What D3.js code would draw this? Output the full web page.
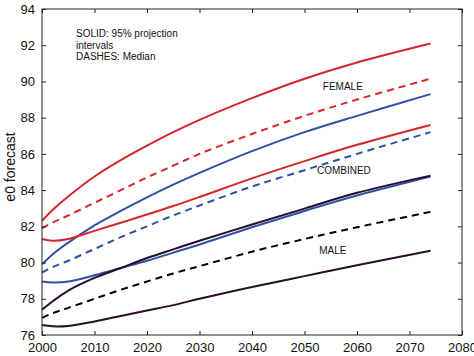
<!DOCTYPE html>
<html><head><meta charset="utf-8">
<script src="https://cdn.jsdelivr.net/npm/d3@7"></script>
<style>
html,body{margin:0;padding:0;background:#fff;}
svg{display:block;font-family:"Liberation Sans",Arial,Helvetica,sans-serif;}
</style></head>
<body>
<script>
const years = [2000, 2002, 2005, 2010, 2015, 2020, 2025, 2030, 2040, 2050, 2060, 2074];
const femaleUpper    = [82.3, 82.9, 83.65, 84.75, 85.65, 86.45, 87.2, 87.88, 89.08, 90.15, 91.05, 92.1];
const femaleMedian   = [81.9, 82.2, 82.6, 83.3, 84.0, 84.7, 85.35, 86.0, 87.1, 88.1, 89.0, 90.15];
const femaleLower    = [81.3, 81.2, 81.3, 81.75, 82.2, 82.65, 83.12, 83.62, 84.65, 85.6, 86.5, 87.6];
const combinedUpper  = [79.9, 80.45, 81.1, 82.05, 82.85, 83.6, 84.3, 84.95, 86.15, 87.2, 88.1, 89.3];
const combinedMedian = [79.45, 79.75, 80.1, 80.75, 81.4, 82.0, 82.6, 83.15, 84.2, 85.1, 86.0, 87.2];
const combinedLower  = [78.95, 78.9, 78.95, 79.3, 79.7, 80.1, 80.55, 81.0, 81.95, 82.85, 83.7, 84.75];
const maleUpper      = [77.4, 77.85, 78.45, 79.15, 79.7, 80.25, 80.73, 81.2, 82.1, 82.98, 83.85, 84.8];
const maleMedian     = [76.95, 77.2, 77.5, 78.0, 78.5, 78.95, 79.4, 79.8, 80.6, 81.3, 81.95, 82.8];
const maleLower      = [76.55, 76.48, 76.5, 76.75, 77.05, 77.35, 77.65, 78.0, 78.65, 79.25, 79.85, 80.65];
const xTicks = [2000, 2010, 2020, 2030, 2040, 2050, 2060, 2070, 2080];
const yTicks = [76, 78, 80, 82, 84, 86, 88, 90, 92, 94];
const groupLabels = ["FEMALE", "COMBINED", "MALE"];
const noteLines = ["SOLID: 95% projection", "intervals", "DASHES: Median"];

const W = 474, H = 356;
const m = {l: 42, r: 12, t: 9, b: 21};
const svg = d3.select("body").append("svg").attr("width", W).attr("height", H);
const x = d3.scaleLinear().domain([2000, 2080]).range([m.l, W - m.r]);
const y = d3.scaleLinear().domain([76, 94]).range([H - m.b, m.t]);

const RED = "#d4262c", BLUE = "#2f50a6", DARK = "#2a0c2c", BLACK = "#000";
const series = [
  {v: combinedLower, c: BLUE, d: null},
  {v: combinedUpper, c: BLUE, d: null},
  {v: combinedMedian, c: BLUE, d: "7,5"},
  {v: femaleLower, c: RED, d: null},
  {v: femaleUpper, c: RED, d: null},
  {v: femaleMedian, c: RED, d: "7,5"},
  {v: maleUpper, c: DARK, d: null},
  {v: maleLower, c: DARK, d: null},
  {v: maleMedian, c: BLACK, d: "7,5"}
];
const line = d3.line().x((d, i) => x(years[i])).y(d => y(d)).curve(d3.curveCatmullRom.alpha(0.5));
series.forEach(s => {
  svg.append("path").attr("d", line(s.v)).attr("fill", "none")
    .attr("stroke", s.c).attr("stroke-width", 2)
    .attr("stroke-dasharray", s.d);
});

// axes (ticks inward on all four sides)
const tk = 4;
const fmt = d3.format("d");
const axB = svg.append("g").attr("transform", `translate(0,${H - m.b})`)
  .call(d3.axisBottom(x).tickValues(xTicks).tickFormat(fmt).tickSizeInner(-tk).tickSizeOuter(0).tickPadding(8));
const axT = svg.append("g").attr("transform", `translate(0,${m.t})`)
  .call(d3.axisTop(x).tickValues(xTicks).tickFormat("").tickSizeInner(-tk).tickSizeOuter(0));
const axL = svg.append("g").attr("transform", `translate(${m.l},0)`)
  .call(d3.axisLeft(y).tickValues(yTicks).tickFormat(fmt).tickSizeInner(-tk).tickSizeOuter(0).tickPadding(7));
const axR = svg.append("g").attr("transform", `translate(${W - m.r},0)`)
  .call(d3.axisRight(y).tickValues(yTicks).tickFormat("").tickSizeInner(-tk).tickSizeOuter(0));
[axB, axT, axL, axR].forEach(a => {
  a.select(".domain").remove();
  a.selectAll("line").attr("stroke", "#222");
  a.selectAll("text").attr("font-size", 13).attr("fill", "#111")
    .attr("font-family", "'Liberation Sans',Arial,sans-serif");
});
svg.append("rect").attr("x", m.l).attr("y", m.t)
  .attr("width", W - m.r - m.l).attr("height", H - m.b - m.t)
  .attr("fill", "none").attr("stroke", "#222").attr("stroke-width", 1);

svg.append("text").attr("transform", `translate(15,167) rotate(-90)`)
  .attr("text-anchor", "middle").attr("font-size", 14).attr("fill", "#111")
  .text("e0 forecast");

const note = svg.append("text").attr("font-size", 10).attr("fill", "#111");
noteLines.forEach((t, i) => note.append("tspan").attr("x", 76).attr("y", 37 + i * 11.5).text(t));

const labelPos = [[2057.3, 89.75], [2057.5, 85.07], [2055.4, 80.69]];
groupLabels.forEach((t, i) => {
  svg.append("text").attr("x", x(labelPos[i][0])).attr("y", y(labelPos[i][1]) + 3.6)
    .attr("text-anchor", "middle")
    .attr("font-size", 10).attr("fill", "#111").text(t);
});
</script>
</body></html>
